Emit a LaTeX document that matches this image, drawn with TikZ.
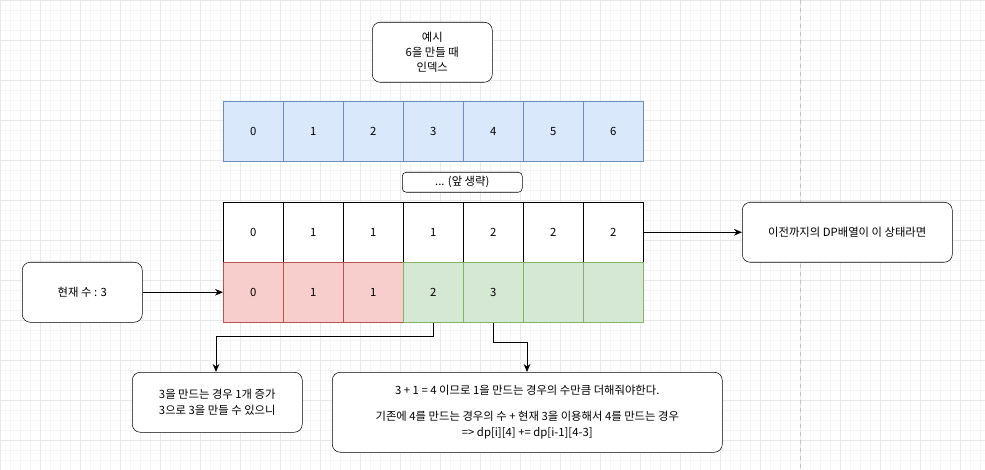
\documentclass[tikz,border=0pt]{standalone}
\usepackage{fontspec}
\usetikzlibrary{arrows.meta}
\setmainfont{Noto Sans CJK KR}
\definecolor{bf}{HTML}{DAE8FC}\definecolor{bs}{HTML}{6C8EBF}
\definecolor{rf}{HTML}{F8CECC}\definecolor{rs}{HTML}{B85450}
\definecolor{gf}{HTML}{D5E8D4}\definecolor{gs}{HTML}{82B366}
\begin{document}
\begin{tikzpicture}[x=0.75pt,y=-0.75pt,font=\fontsize{8.5}{11.5}\selectfont,
  cell/.style={minimum width=60*0.75pt,minimum height=60*0.75pt,anchor=north west,inner sep=0},
  cellb/.style={cell,draw=bs,fill=bf},
  cellw/.style={cell,draw=black,fill=white},
  cellr/.style={cell,draw=rs,fill=rf},
  cellg/.style={cell,draw=gs,fill=gf},
  rbox/.style={draw=black,fill=white,rounded corners=6pt,anchor=north west,inner sep=0,align=center},
  arr/.style={-{Stealth[length=6pt,width=5pt]},line width=0.6pt}]
\useasboundingbox (0,0) rectangle (985,470);
\fill[white] (0,0) rectangle (985,470);
\draw[black!4,line width=0.4pt] (0,0) grid[step=10*0.75pt] (985,470);
\draw[black!9,line width=0.4pt] (0,0) grid[step=40*0.75pt] (985,470);
\draw[black!25,dashed] (800,0) -- (800,470);
\node[rbox,minimum width=120*0.75pt,minimum height=60*0.75pt] (top) at (372,22) {예시\\6을 만들 때\\인덱스};
\foreach \i in {0,...,6} {
  \node[cellb] (b\i) at (223+60*\i,101) {\i};
}
\node[rbox,rounded corners=3pt,minimum width=120*0.75pt,minimum height=20*0.75pt] (omit) at (402,172) {... (앞 생략)};
\foreach \i/\v in {0/0,1/1,2/1,3/1,4/2,5/2,6/2} {
  \node[cellw] (w\i) at (223+60*\i,202) {\v};
}
\node[cellr] (r0) at (223,262) {0};
\node[cellr] (r1) at (283,262) {1};
\node[cellr] (r2) at (343,262) {1};
\node[cellg] (r3) at (403,262) {2};
\node[cellg] (r4) at (463,262) {3};
\node[cellg] (r5) at (523,262) {};
\node[cellg] (r6) at (583,262) {};
\node[rbox,minimum width=210*0.75pt,minimum height=60*0.75pt] (right) at (742,202) {이전까지의 DP배열이 이 상태라면};
\node[rbox,minimum width=120*0.75pt,minimum height=60*0.75pt] (left) at (22,262) {현재 수 : 3};
\node[rbox,minimum width=170*0.75pt,minimum height=60*0.75pt] (bl) at (132,372) {3을 만드는 경우 1개 증가\\3으로 3을 만들 수 있으니};
\node[rbox,minimum width=390*0.75pt,minimum height=80*0.75pt] (br) at (332,372) {3 + 1 = 4 이므로 1을 만드는 경우의 수만큼 더해줘야한다.\\[8pt]기존에 4를 만드는 경우의 수 + 현재 3을 이용해서 4를 만드는 경우\\=> dp[i][4] += dp[i-1][4-3]};
\coordinate (c1) at (216,372);
\coordinate (c2) at (527,372);
\draw[arr] (w6.east) -- (right.west);
\draw[arr] (left.east) -- (r0.west);
\draw[arr] (r3.south) -- ++(0,14) -| (c1);
\draw[arr] (r4.south) -- ++(0,20) -| (c2);
\end{tikzpicture}
\end{document}
